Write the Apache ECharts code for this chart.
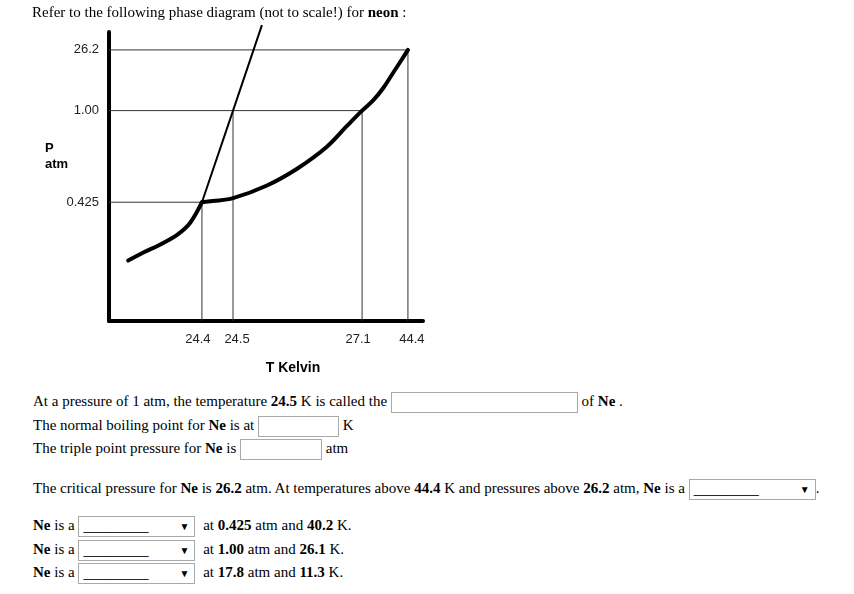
<!DOCTYPE html>
<html>
<head>
<meta charset="utf-8">
<script src="https://cdn.jsdelivr.net/npm/echarts@6/dist/echarts.min.js"></script>
<style>
    body { margin: 0; background: #fff; }
    #graph { position: absolute; left: 0; top: 0; width: 854px; height: 380px; }
    .q { position: absolute; left: 33px; height: 22px; line-height: 22px; white-space: nowrap;
         font-family: "Liberation Serif", "Times New Roman", serif; font-size: 15px; color: #000; }
    .box { display: inline-block; height: 19px; border: 1px solid #a9a9a9; vertical-align: middle; background: #fff; }
    .sel { display: inline-block; position: relative; height: 19px; border: 1px solid #a9a9a9; vertical-align: middle;
           font-family: "Liberation Sans", Arial, sans-serif; font-size: 13px; line-height: 17px; padding-left: 4px; box-sizing: content-box; }
    .sel .arr { position: absolute; right: 5px; top: 1px; font-size: 10px; }
    .gap { margin-right: 4px; }
</style>
</head>
<body>
<div id="graph"></div>

<div class="q" style="top:390px">At a pressure of 1 atm, the temperature <b>24.5</b> K is called the <span class="box" style="width:185px"></span> of <b>Ne</b> .</div>
<div class="q" style="top:414px">The normal boiling point for <b>Ne</b> is at <span class="box" style="width:79px"></span> K</div>
<div class="q" style="top:437px">The triple point pressure for <b>Ne</b> is <span class="box" style="width:80px"></span> atm</div>
<div class="q" style="top:477px">The critical pressure for <b>Ne</b> is <b>26.2</b> atm. At temperatures above <b>44.4</b> K and pressures above <b>26.2</b> atm, <b>Ne</b> is a <span class="sel" style="width:121px">_________<span class="arr">&#9660;</span></span>.</div>
<div class="q" style="top:514px"><b>Ne</b> is a <span class="sel gap" style="width:111px">_________<span class="arr">&#9660;</span></span> at <b>0.425</b> atm and <b>40.2</b> K.</div>
<div class="q" style="top:538px"><b>Ne</b> is a <span class="sel gap" style="width:111px">_________<span class="arr">&#9660;</span></span> at <b>1.00</b> atm and <b>26.1</b> K.</div>
<div class="q" style="top:561px"><b>Ne</b> is a <span class="sel gap" style="width:111px">_________<span class="arr">&#9660;</span></span> at <b>17.8</b> atm and <b>11.3</b> K.</div>

<script>
// diagram is "not to scale": everything is in diagram units (0-100 on both axes)
var tempLabels = ['24.4', '24.5', '27.1', '44.4'];
var tempAt = [29.6, 39.5, 80.6, 95.2];
var presLabels = ['0.425', '1.00', '26.2'];
var presAt = [41.1, 72.8, 93.8];

// solid/gas boundary up to the triple point
var subT = [6.1, 10.8, 16.2, 21.7, 25.8, 29.6];
var subP = [20.9, 23.6, 26.4, 29.8, 33.9, 41.1];
// liquid/gas boundary from triple point to critical point
var vapT = [29.6, 33.0, 39.5, 50.3, 59.9, 69.4, 75.7, 80.6, 84.2, 87.4, 90.5, 93.2, 95.2];
var vapP = [41.1, 41.5, 42.5, 46.9, 52.7, 60.3, 67.4, 72.8, 76.4, 80.7, 85.9, 90.4, 93.8];
// solid/liquid boundary
var fusT = [29.6, 39.5, 48.7];
var fusP = [41.1, 72.8, 102.4];

function zip(a, b) {
    return a.map(function (v, i) { return [v, b[i]]; });
}

function lookup(pos, labels, styles) {
    return function (value) {
        for (var i = 0; i < pos.length; i++) {
            if (Math.abs(pos[i] - value) < 0.01) {
                return styles ? '{' + styles[i] + '|' + labels[i] + '}' : labels[i];
            }
        }
        return '';
    };
}

function guide(data) {
    return {
        type: 'line',
        data: data,
        symbol: 'none',
        silent: true,
        lineStyle: { color: '#333', width: 1 },
        z: 1
    };
}

function boundary(name, data) {
    return {
        name: name,
        type: 'line',
        data: data,
        smooth: 0.35,
        symbol: 'none',
        lineStyle: { color: '#000', width: 4, cap: 'round', join: 'round' },
        z: 3
    };
}

var tickFont = { fontFamily: 'Liberation Sans', fontSize: 13, color: '#222' };

var dom = document.getElementById('graph');
var myChart = echarts.init(dom);
var option = {
    animation: false,
    title: {
        left: 32,
        top: 6,
        padding: 0,
        text: '{n|Refer to the following phase diagram (not to scale!) for }{b|neon}{n| :}',
        textStyle: {
            fontWeight: 'normal',
            rich: {
                n: { fontFamily: 'Liberation Serif', fontSize: 15, color: '#000', fontWeight: 'normal' },
                b: { fontFamily: 'Liberation Serif', fontSize: 15, color: '#000', fontWeight: 'bold' }
            }
        }
    },
    graphic: [
        {
            type: 'text',
            left: 45,
            top: 140,
            style: {
                text: 'P\natm',
                font: 'bold 13px "Liberation Sans", Arial, sans-serif',
                lineHeight: 16,
                fill: '#000'
            }
        }
    ],
    grid: { left: 109, top: 32, width: 314, height: 292 },
    xAxis: {
        type: 'value',
        min: 0,
        max: 100,
        name: 'T Kelvin',
        nameLocation: 'middle',
        nameGap: 40,
        nameTextStyle: {
            fontFamily: 'Liberation Sans', fontSize: 14, fontWeight: 'bold', color: '#000',
            padding: [0, 0, 0, 54]
        },
        splitLine: { show: false },
        axisTick: { show: false },
        axisLine: { lineStyle: { color: '#000', width: 4 } },
        axisLabel: {
            customValues: tempAt,
            // labels sit a little off their guide lines in the original
            formatter: lookup(tempAt, tempLabels, ['l', 'r', 'l', 'r']),
            margin: 12,
            rich: {
                l: Object.assign({ padding: [0, 8, 0, 0] }, tickFont),
                r: Object.assign({ padding: [0, 0, 0, 8] }, tickFont)
            }
        }
    },
    yAxis: {
        type: 'value',
        min: 0,
        max: 100,
        splitLine: { show: false },
        axisTick: { show: false },
        axisLine: { lineStyle: { color: '#000', width: 4 } },
        axisLabel: Object.assign({
            customValues: presAt,
            formatter: lookup(presAt, presLabels),
            margin: 10
        }, tickFont)
    },
    series: [
        guide([[0, presAt[0]], [tempAt[0], presAt[0]], [tempAt[0], 0]]),
        guide([[0, presAt[1]], [tempAt[2], presAt[1]], [tempAt[2], 0]]),
        guide([[tempAt[1], presAt[1]], [tempAt[1], 0]]),
        guide([[0, presAt[2]], [tempAt[3], presAt[2]], [tempAt[3], 0]]),
        boundary('sublimation', zip(subT, subP)),
        boundary('vaporization', zip(vapT, vapP)),
        {
            name: 'fusion',
            type: 'line',
            data: zip(fusT, fusP),
            clip: false,
            symbol: 'none',
            lineStyle: { color: '#000', width: 2 },
            z: 2
        }
    ]
};
myChart.setOption(option);
</script>
</body>
</html>
